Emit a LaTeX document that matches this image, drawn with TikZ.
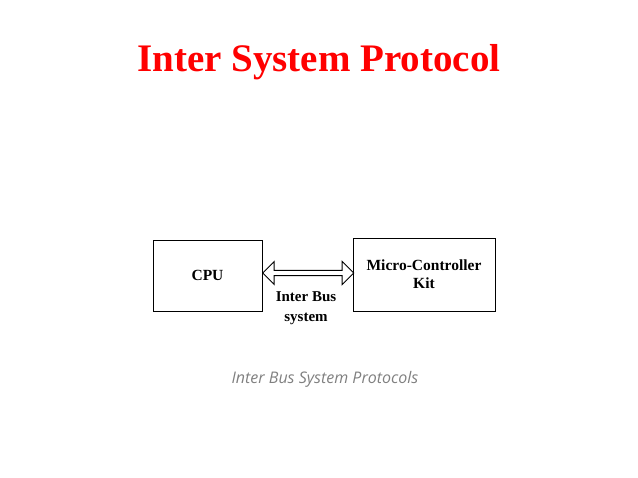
\documentclass[tikz,border=0pt]{standalone}
\usepackage{fontspec}
\setmainfont{Liberation Serif}
\newfontfamily\capfont{Open Sans}
\usetikzlibrary{shapes.arrows}
\begin{document}
\begin{tikzpicture}[x=1pt,y=-1pt,
  blk/.style={draw, line width=0.8pt, inner sep=0pt, font=\bfseries\fontsize{15.5}{18}\selectfont, align=center}]
\useasboundingbox (0,0) rectangle (638,478);
\node[text=red, font=\bfseries\fontsize{39}{44}\selectfont] (title) at (319,62) {Inter System Protocol};
\node[blk, minimum width=109, minimum height=71] (cpu) at (207.5,275.5) {CPU};
\node[blk, minimum width=142, minimum height=73] (mc) at (424,274.5) {Micro-Controller\\Kit};
\node[double arrow, draw, line width=1pt, minimum height=91, minimum width=23, double arrow head extend=7pt, double arrow head indent=0pt, inner sep=1.5pt, anchor=west] (bus) at (262,273) {};
\node[font=\bfseries\fontsize{15}{20}\selectfont, align=center] (lbl) at (306,308) {Inter Bus\\system};
\node[text=gray, font=\capfont\itshape\fontsize{16}{19}\selectfont] (cap) at (325,379) {Inter Bus System Protocols};
\end{tikzpicture}
\end{document}
